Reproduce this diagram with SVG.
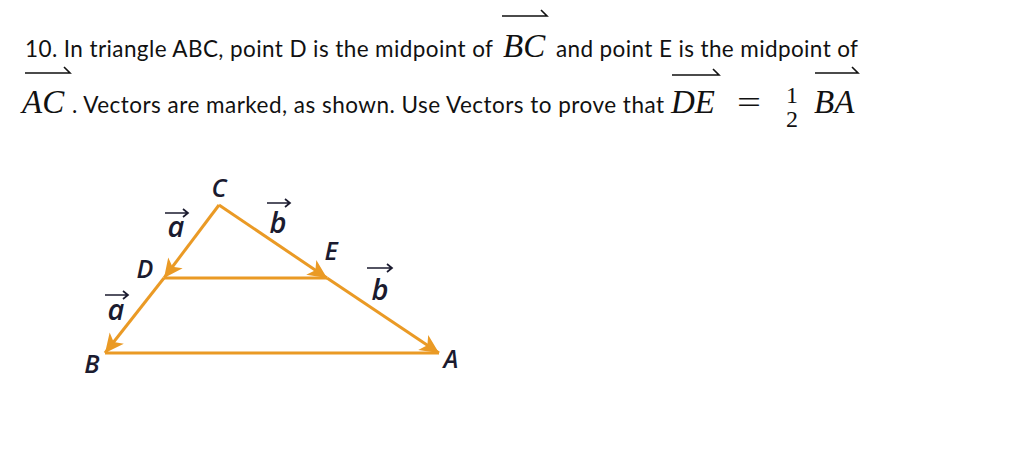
<svg xmlns="http://www.w3.org/2000/svg" width="1024" height="454" viewBox="0 0 1024 454">
<style>
.t{font-family:Lato,"Liberation Sans",sans-serif;font-size:22.5px;fill:#111}
.m{font-family:"Liberation Serif","Times New Roman",serif;font-style:italic;font-size:33px;fill:#111}
.n{font-family:"Liberation Serif","Times New Roman",serif;font-size:24px;fill:#111}
.ov{stroke:#111;stroke-width:1.6;fill:none}
.lb{font-family:"Open Sans","Liberation Sans",sans-serif;font-style:italic;font-weight:600;font-size:25px;fill:#1b1b2f;text-anchor:middle}
.vl{font-family:"Open Sans","Liberation Sans",sans-serif;font-style:italic;font-weight:600;font-size:29px;fill:#1b1b2f;text-anchor:middle}
.va{stroke:#1b1b2f;stroke-width:1.7;fill:none}
.e{stroke:#EA9A25;stroke-width:3;fill:none}
</style>
<defs>
<marker id="ah" markerUnits="userSpaceOnUse" markerWidth="22" markerHeight="22" refX="20" refY="10" orient="auto" viewBox="0 0 22 20">
<path d="M20,10 L1,1 L6,10 L1,19 Z" fill="#EA9A25"/>
</marker>
</defs>
<g id="header">
<text class="t" x="25" y="57" textLength="468" lengthAdjust="spacing">10. In triangle ABC, point D is the midpoint of</text>
<text class="m" x="503" y="57">BC</text>
<path class="ov" d="M502,16 H547 L541,10"/>
<text class="t" x="556" y="57" textLength="302" lengthAdjust="spacing">and point E is the midpoint of</text>
<path class="ov" d="M25,73 H70 L64,67"/>
<text class="m" x="22" y="113">AC</text>
<text class="t" x="72" y="113" textLength="592" lengthAdjust="spacing">. Vectors are marked, as shown. Use Vectors to prove that</text>
<text class="m" x="671" y="113">DE</text>
<path class="ov" d="M672,75 H719 L713,69"/>
<text x="737" y="113" style="font-family:'Liberation Serif',serif;font-size:32px;fill:#111" textLength="24" lengthAdjust="spacingAndGlyphs">=</text>
<text class="n" x="792" y="103" text-anchor="middle">1</text>
<text class="n" x="792" y="127" text-anchor="middle">2</text>
<text class="m" x="814" y="113">BA</text>
<path class="ov" d="M815,73 H858 L852,67"/>
</g>
<g id="connectors">
<line class="e" x1="219" y1="205" x2="164" y2="278" marker-end="url(#ah)"/>
<line class="e" x1="164" y1="278" x2="105" y2="353" marker-end="url(#ah)"/>
<line class="e" x1="219" y1="205" x2="327" y2="278" marker-end="url(#ah)"/>
<line class="e" x1="327" y1="278" x2="439" y2="353" marker-end="url(#ah)"/>
<line class="e" x1="164" y1="278" x2="327" y2="278"/>
<line class="e" x1="105" y1="353" x2="439" y2="353"/>
</g>
<g id="node-C"><text class="lb" x="219" y="197">C</text></g>
<g id="node-D"><text class="lb" x="145" y="278">D</text></g>
<g id="node-B"><text class="lb" x="92" y="373">B</text></g>
<g id="node-E"><text class="lb" x="331" y="260">E</text></g>
<g id="node-A"><text class="lb" x="451" y="368">A</text></g>
<g id="label-a1"><text class="vl" x="176" y="237">a</text><path class="va" d="M165,213 H188 M183,209 L188,213 L183,217"/></g>
<g id="label-b1"><text class="vl" x="278" y="233">b</text><path class="va" d="M267,203 H290 M285,199 L290,203 L285,207"/></g>
<g id="label-a2"><text class="vl" x="116" y="320">a</text><path class="va" d="M105,295 H128 M123,291 L128,295 L123,299"/></g>
<g id="label-b2"><text class="vl" x="380" y="300">b</text><path class="va" d="M367,268 H392 M387,264 L392,268 L387,272"/></g>
</svg>
